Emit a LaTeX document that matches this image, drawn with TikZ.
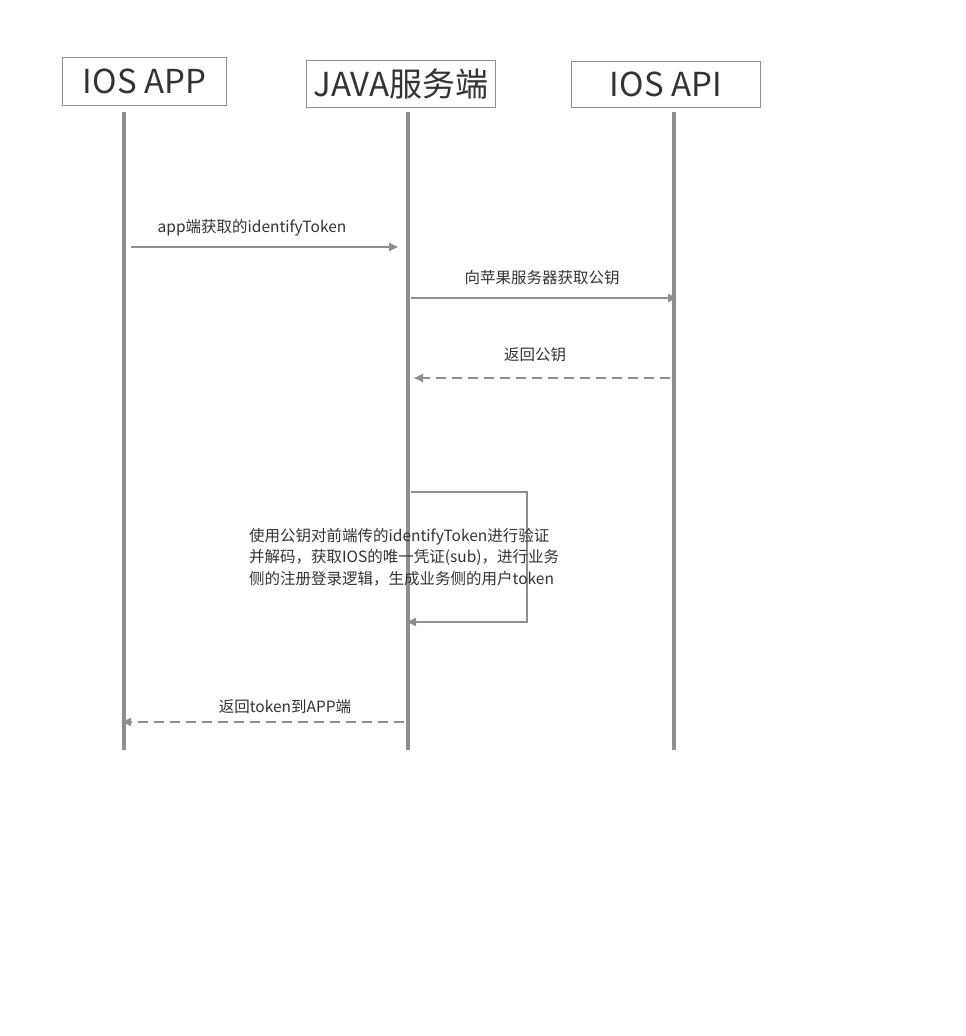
\documentclass[tikz,border=0pt]{standalone}
\usepackage{fontspec}
\setmainfont{Noto Sans CJK SC}
\usetikzlibrary{arrows.meta}
\definecolor{lg}{HTML}{8E8E8E}
\definecolor{tx}{HTML}{333333}
\tikzset{
 x=1pt,y=-1pt,
 head/.style={draw=lg,line width=0.8pt,fill=white,text=tx,font=\fontsize{33}{38}\selectfont,inner sep=0pt,anchor=north west},
 life/.style={draw=lg,line width=4.5pt},
 msg/.style={draw=lg,line width=2pt,-{Triangle[length=9pt,width=8pt]}},
 rmsg/.style={msg,dash pattern=on 10pt off 6pt},
 lbl/.style={text=tx,font=\fontsize{15.5}{18}\selectfont,inner sep=0pt}
}
\begin{document}
\begin{tikzpicture}
\fill[white] (0,0) rectangle (966,1036);
\useasboundingbox (0,0) rectangle (966,1036);
\node[head,minimum width=164pt,minimum height=48pt] (a) at (62,57) {IOS APP};
\node[head,minimum width=189pt,minimum height=47pt] (j) at (306,60) {JAVA服务端};
\node[head,minimum width=189pt,minimum height=46pt] (i) at (571,61) {IOS API};
\coordinate (a0) at (124,112); \coordinate (a1) at (124,750);
\coordinate (j0) at (408,112); \coordinate (j1) at (408,750);
\coordinate (i0) at (674,112); \coordinate (i1) at (674,750);
\draw[life] (a0) -- (a1);
\draw[life] (j0) -- (j1);
\draw[life] (i0) -- (i1);
\coordinate (m1s) at (131,247); \coordinate (m1e) at (398,247);
\draw[msg] (m1s) -- (m1e);
\node[lbl] (t1) at (252,228) {app端获取的identifyToken};
\coordinate (m2s) at (411,298); \coordinate (m2e) at (677,298);
\draw[msg] (m2s) -- (m2e);
\node[lbl] (t2) at (542,278) {向苹果服务器获取公钥};
\coordinate (m3s) at (670,378); \coordinate (m3e) at (414,378);
\draw[rmsg] (m3s) -- (m3e);
\node[lbl] (t3) at (535,355) {返回公钥};
\coordinate (l0) at (411,492); \coordinate (l1) at (527,492); \coordinate (l2) at (527,622); \coordinate (l3) at (407,622);
\draw[msg] (l0) -- (l1) -- (l2) -- (l3);
\node[lbl,anchor=west,align=left,font=\fontsize{15.5}{21.5}\selectfont] (t) at (249,557) {使用公钥对前端传的identifyToken进行验证\\并解码，获取IOS的唯一凭证(sub)，进行业务\\侧的注册登录逻辑，生成业务侧的用户token};
\coordinate (m5s) at (404,722); \coordinate (m5e) at (122,722);
\draw[rmsg] (m5s) -- (m5e);
\node[lbl] (t5) at (285,707) {返回token到APP端};
\end{tikzpicture}
\end{document}
